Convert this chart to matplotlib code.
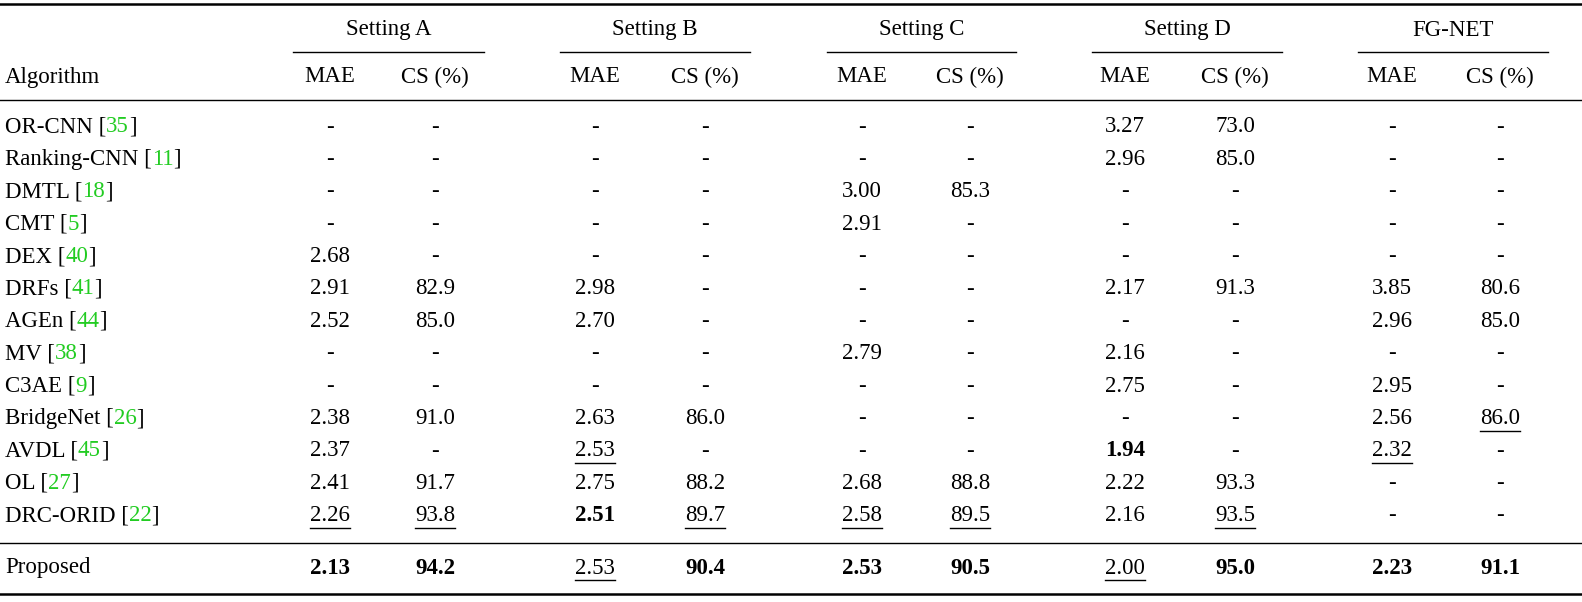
import matplotlib
matplotlib.use("Agg")
import matplotlib.pyplot as plt

plt.rcParams['font.family'] = ['Liberation Serif', 'DejaVu Serif']

algorithms = ["OR-CNN", "Ranking-CNN", "DMTL", "CMT", "DEX", "DRFs", "AGEn", "MV",
              "C3AE", "BridgeNet", "AVDL", "OL", "DRC-ORID", "Proposed"]
citations = ["35", "11", "18", "5", "40", "41", "44", "38", "9", "26", "45", "27", "22", None]
groups = ["Setting A", "Setting B", "Setting C", "Setting D", "FG-NET"]

# one column per (group, metric); '-' = not reported
columns = [
    ["-", "-", "-", "-", "2.68", "2.91", "2.52", "-", "-", "2.38", "2.37", "2.41", "2.26", "2.13"],
    ["-", "-", "-", "-", "-", "82.9", "85.0", "-", "-", "91.0", "-", "91.7", "93.8", "94.2"],
    ["-", "-", "-", "-", "-", "2.98", "2.70", "-", "-", "2.63", "2.53", "2.75", "2.51", "2.53"],
    ["-", "-", "-", "-", "-", "-", "-", "-", "-", "86.0", "-", "88.2", "89.7", "90.4"],
    ["-", "-", "3.00", "2.91", "-", "-", "-", "2.79", "-", "-", "-", "2.68", "2.58", "2.53"],
    ["-", "-", "85.3", "-", "-", "-", "-", "-", "-", "-", "-", "88.8", "89.5", "90.5"],
    ["3.27", "2.96", "-", "-", "-", "2.17", "-", "2.16", "2.75", "-", "1.94", "2.22", "2.16", "2.00"],
    ["73.0", "85.0", "-", "-", "-", "91.3", "-", "-", "-", "-", "-", "93.3", "93.5", "95.0"],
    ["-", "-", "-", "-", "-", "3.85", "2.96", "-", "2.95", "2.56", "2.32", "-", "-", "2.23"],
    ["-", "-", "-", "-", "-", "80.6", "85.0", "-", "-", "86.0", "-", "-", "-", "91.1"],
]
# (row, column) cells
bold_cells = {(10, 6), (12, 2), (13, 0), (13, 1), (13, 3), (13, 4), (13, 5), (13, 7), (13, 8), (13, 9)}
underline_cells = {(10, 2), (10, 8), (9, 9), (12, 0), (12, 1), (12, 3), (12, 4), (12, 5), (12, 7), (13, 2), (13, 6)}

W, H = 1582, 602
fig = plt.figure(figsize=(W / 100, H / 100), dpi=100)
ax = fig.add_axes([0, 0, 1, 1])
ax.set_xlim(0, W)
ax.set_ylim(H, 0)
ax.axis('off')
fs = 16.5
green = '#22cc22'

col_x = [330, 435, 595, 705, 862, 970, 1125, 1235, 1392, 1500]
group_span = [(293, 484), (560, 750), (827, 1016), (1092, 1282), (1358, 1548)]
row_y = [127 + 32.4 * i for i in range(13)] + [568]

# rules
ax.plot([0, W], [4, 4], color='black', lw=1.8)
ax.plot([0, W], [100, 100], color='black', lw=1.0)
ax.plot([0, W], [543, 543], color='black', lw=1.0)
ax.plot([0, W], [594, 594], color='black', lw=1.8)
for g, (a, b) in zip(groups, group_span):
    ax.text((a + b) / 2, 30, g, fontsize=fs, ha='center', va='center')
    ax.plot([a, b], [52, 52], color='black', lw=1.0)

ax.text(5, 77, "Algorithm", fontsize=fs, va='center')
for i, x in enumerate(col_x):
    ax.text(x, 77, "MAE" if i % 2 == 0 else "CS (%)", fontsize=fs, ha='center', va='center')

fig.canvas.draw()
r = fig.canvas.get_renderer()
inv = ax.transData.inverted()


def width(t):
    bb = t.get_window_extent(r)
    p0 = inv.transform((bb.x0, bb.y0))
    p1 = inv.transform((bb.x1, bb.y0))
    return p0[0], p1[0]


for i, (name, cit) in enumerate(zip(algorithms, citations)):
    y = row_y[i]
    if cit is None:
        ax.text(5, y, name, fontsize=fs, va='center')
        continue
    t = ax.text(5, y, name + " [", fontsize=fs, va='center')
    x1 = width(t)[1]
    t2 = ax.text(x1, y, cit, fontsize=fs, va='center', color=green)
    x2 = width(t2)[1]
    ax.text(x2, y, "]", fontsize=fs, va='center')

for j, col in enumerate(columns):
    for i, v in enumerate(col):
        y = row_y[i]
        t = ax.text(col_x[j], y, v, fontsize=fs, ha='center', va='center',
                    fontweight='bold' if (i, j) in bold_cells else 'normal')
        if (i, j) in underline_cells:
            a, b = width(t)
            ax.plot([a, b], [y + 12, y + 12], color='black', lw=1.0)

fig.savefig("out.png", dpi=100)
